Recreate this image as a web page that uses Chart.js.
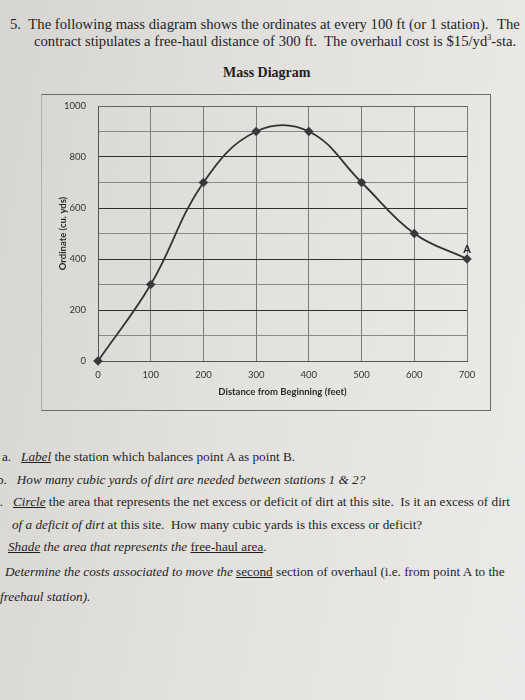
<!DOCTYPE html>
<html>
<head>
<meta charset="utf-8">
<script src="https://cdn.jsdelivr.net/npm/chart.js@4.4.0/dist/chart.umd.min.js"></script>
<style>
body{margin:0;width:525px;height:700px;overflow:hidden;position:relative;
  background:linear-gradient(100deg,#d6d5d2 0%,#e2e1de 45%,#ecebe9 100%);
  font-family:"Liberation Serif",serif;color:#1f1f1f}
.t{position:absolute;white-space:nowrap;line-height:1}
.top{font-size:14.7px}
.q{font-size:13.2px}
.box{position:absolute;left:41px;top:94px;width:448px;height:315px;border:1px solid #6a6a6a;border-left-color:#b0b0ae}
.box canvas{position:absolute;left:0;top:0}
</style>
</head>
<body>
<div class="t top" style="left:10px;top:17px">5.&nbsp;&nbsp;The following mass diagram shows the ordinates at every 100 ft (or 1 station).</div>
<div class="t top" style="left:497px;top:17px">The</div>
<div class="t top" style="left:34px;top:34px">contract stipulates a free-haul distance of 300 ft.&nbsp; The overhaul cost is $15/yd<sup style="font-size:8px">3</sup>-sta.</div>
<div class="t" style="left:223px;top:66px;font-size:14px;font-weight:bold">Mass Diagram</div>

<div class="box"><canvas id="chart" width="448" height="315"></canvas></div>

<div class="t q" style="left:2px;top:450px">a.&nbsp;&nbsp;&nbsp;<u><i>Label</i></u> the station which balances point A as point B.</div>
<div class="t q" style="left:-3px;top:473px">b.&nbsp;&nbsp;&nbsp;<i>How many cubic yards of dirt are needed between stations 1 &amp; 2?</i></div>
<div class="t q" style="left:-6px;top:495px">c.&nbsp;&nbsp;&nbsp;<u><i>Circle</i></u> the area that represents the net excess or deficit of dirt at this site.&nbsp; Is it an excess of dirt</div>
<div class="t q" style="left:12px;top:518px"><i>of a deficit of dirt</i> at this site.&nbsp; How many cubic yards is this excess or deficit?</div>
<div class="t q" style="left:8px;top:540px"><u><i>Shade</i></u> <i>the area that represents the</i> <u>free-haul area</u>.</div>
<div class="t q" style="left:5px;top:565px"><i>Determine the costs associated to move the</i> <u>second</u> section of overhaul (i.e. from point A to the</div>
<div class="t q" style="left:0px;top:590px"><i>freehaul station).</i></div>

<script>
// mass diagram values (every station = 100 ft)
const stations = [0, 100, 200, 300, 400, 500, 600, 700];
const ordinates = [0, 300, 700, 900, 900, 700, 500, 400];
const pointLabels = ['', '', '', '', '', '', '', 'A'];

const chartFont = 'Lato';

const labelPlugin = {
  id: 'pointLabel',
  afterDatasetsDraw(chart) {
    const ctx = chart.ctx;
    const meta = chart.getDatasetMeta(0);
    ctx.save();
    ctx.font = 'bold 11px ' + chartFont;
    ctx.fillStyle = '#2a2a2a';
    ctx.textAlign = 'center';
    ctx.textBaseline = 'middle';
    meta.data.forEach((pt, i) => {
      if (pointLabels[i]) ctx.fillText(pointLabels[i], pt.x, pt.y - 10);
    });
    ctx.restore();
  }
};

new Chart(document.getElementById('chart'), {
  type: 'line',
  data: {
    datasets: [{
      data: stations.map((s, i) => ({x: s, y: ordinates[i]})),
      borderColor: '#333',
      borderWidth: 1.8,
      tension: 0.4,
      pointStyle: 'rectRot',
      pointRadius: 3.5,
      pointBackgroundColor: '#3a3a3a',
      pointBorderColor: '#3a3a3a',
      clip: false
    }]
  },
  options: {
    responsive: false,
    animation: false,
    events: [],
    layout: {padding: {top: 11, right: 23, left: 0, bottom: 0}},
    plugins: {legend: {display: false}, tooltip: {enabled: false}},
    scales: {
      x: {
        type: 'linear', min: 0, max: 700,
        afterFit(scale) { scale.height = 49; scale.paddingLeft = 0; scale.paddingRight = 0; },
        ticks: {stepSize: 100, padding: 8, color: '#333', font: {family: chartFont, size: 9.5}},
        grid: {drawTicks: false, color: '#7a7a7a'},
        border: {color: '#555'},
        title: {display: true, text: 'Distance from Beginning (feet)', color: '#2a2a2a',
          font: {family: chartFont, size: 9.5, weight: 'bold'}, padding: {top: 0, bottom: 12}}
      },
      y: {
        min: 0, max: 1000,
        afterFit(scale) { scale.width = 56; scale.paddingTop = 0; scale.paddingBottom = 0; },
        ticks: {stepSize: 100, padding: 12, color: '#333', font: {family: chartFont, size: 9.5},
          callback: v => (v % 200 === 0 ? v : '')},
        grid: {drawTicks: false,
          color: c => (c.tick.value === 1000 ? '#666' : c.tick.value % 200 === 0 ? '#2e2e2e' : '#8a8a8a')},
        border: {color: '#555'},
        title: {display: true, text: 'Ordinate (cu. yds)', color: '#2a2a2a',
          font: {family: chartFont, size: 9.5, weight: 'bold'}, padding: {top: 15, bottom: 0}}
      }
    }
  },
  plugins: [labelPlugin]
});
</script>
</body>
</html>
